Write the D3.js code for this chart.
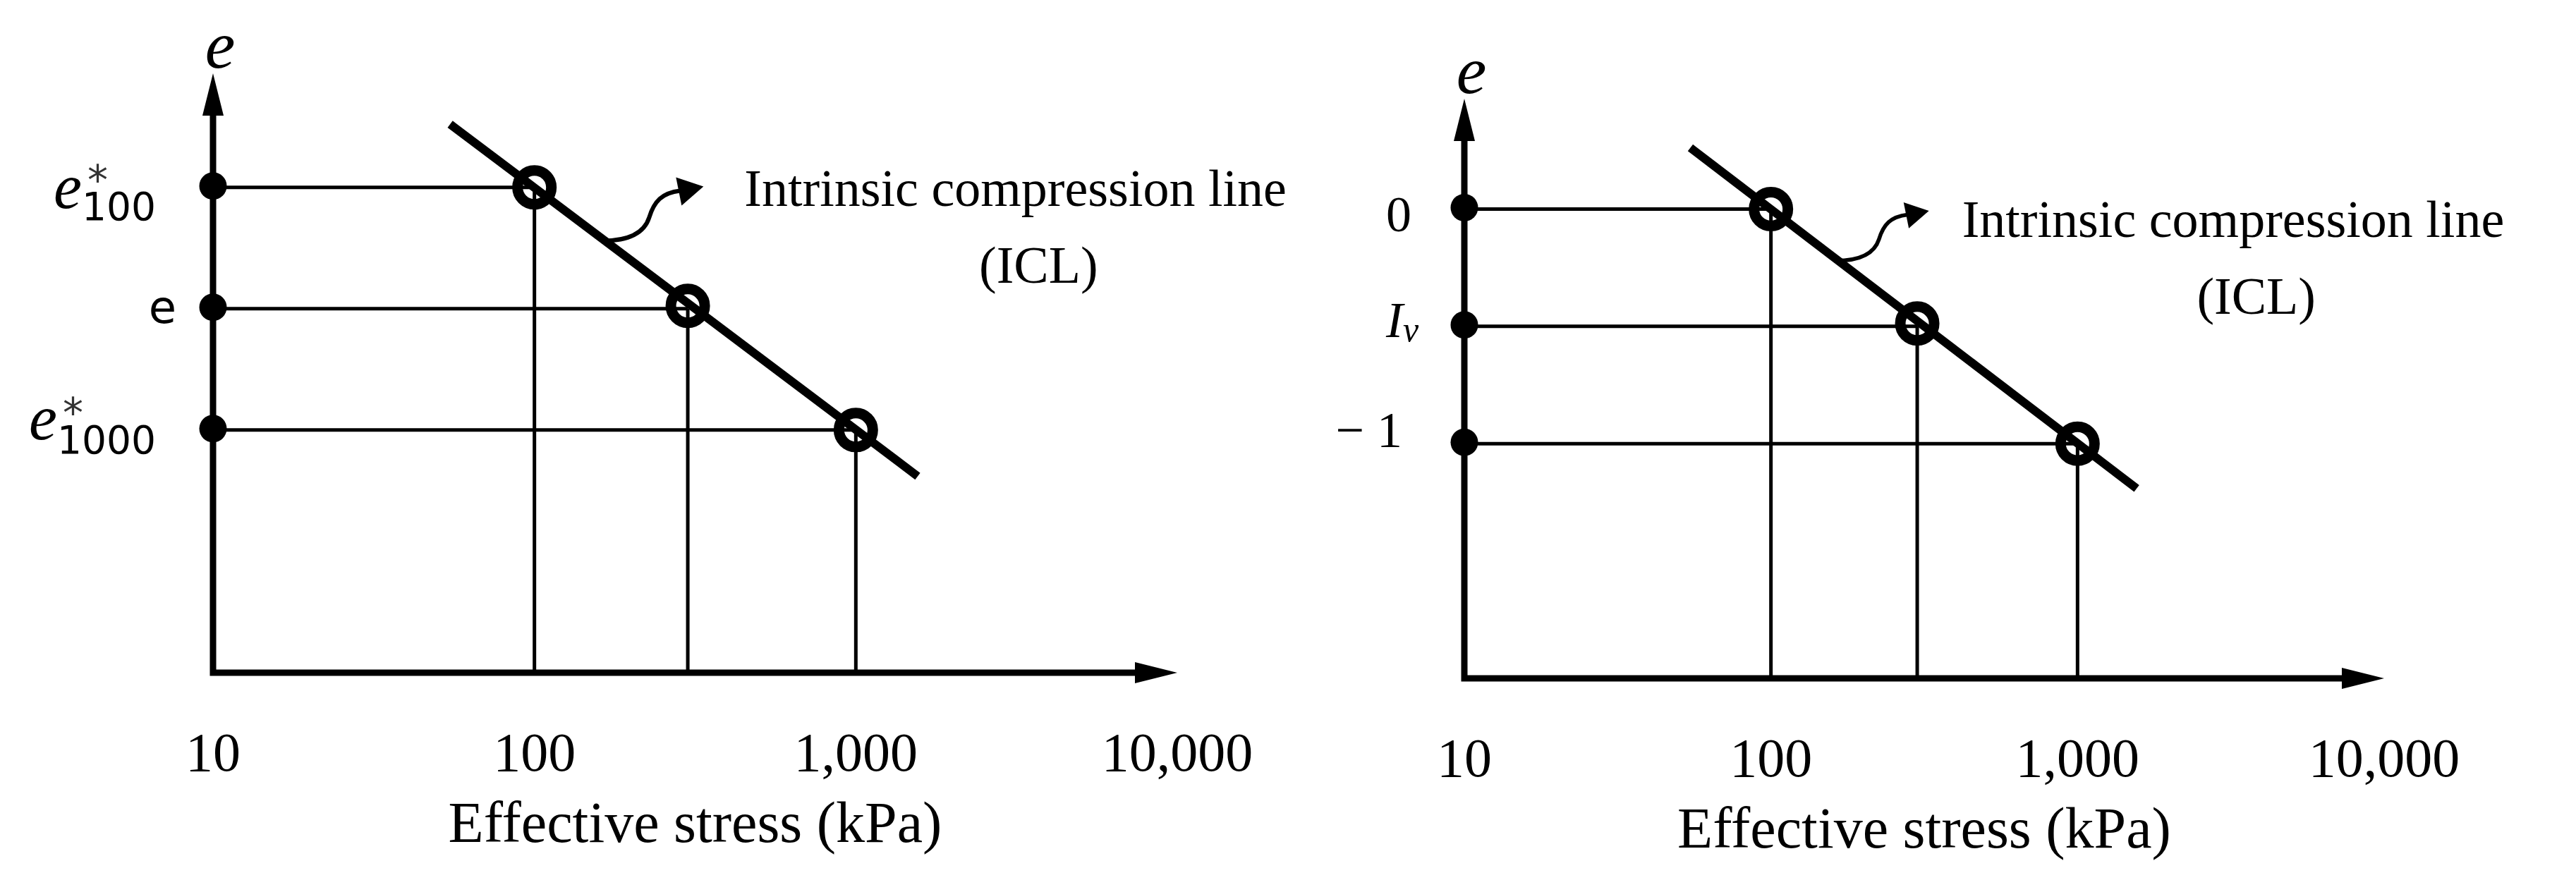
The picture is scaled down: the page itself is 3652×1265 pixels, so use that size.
<!DOCTYPE html>
<html>
<head>
<meta charset="utf-8">
<script src="https://cdn.jsdelivr.net/npm/d3@7"></script>
<style>
  html, body { margin: 0; padding: 0; background: #fff; }
  svg { display: block; }
</style>
</head>
<body>
<div id="chart"></div>
<script>
////////////////////////////////////////////////////////////////////
//////////////////////////////  Data  //////////////////////////////
const stressTicks = [10, 100, 1000, 10000];
const stressTickLabels = ["10", "100", "1,000", "10,000"];
const pointStress = [100, 300, 1000];
const pointIv = [0, -0.5, -1];
const iclStress = [56, 1520];
const iclIv = [0.25, -1.18];
const ivDomain = [-2, 0.47];
const noteStress = 168;
const leftSymbols = ["e", "e", "e"];
const leftSubs = ["100", "", "1000"];
const leftStars = ["*", "", "*"];
const rightSymbols = ["0", "I", "\u2212 1"];
const rightSubs = ["", "v", ""];
const yAxisTitle = "e";
const xAxisTitle = "Effective stress (kPa)";
const noteLines = ["Intrinsic compression line", "(ICL)"];

////////////////////////////////////////////////////////////////////
//////////////////////////////  Init  //////////////////////////////
const width = 3652, height = 1265;
const svg = d3.select("#chart").append("svg")
    .attr("width", width).attr("height", height);

const serif = "'Liberation Serif', 'Times New Roman', serif";
const sans = "'DejaVu Sans', sans-serif";

const panels = [
    { side: "left", xRange: [302, 1669], yRange: [954, 104],
      noteScale: 1, noteDx: 58, noteDy: 28 },
    { side: "right", xRange: [2076, 3380], yRange: [962, 140],
      noteScale: 0.92, noteDx: 47, noteDy: 37 }
];

panels.forEach(drawPanel);

function drawPanel(p) {
    const g = svg.append("g");
    const x = d3.scaleLog().domain([stressTicks[0], stressTicks[stressTicks.length - 1]]).range(p.xRange);
    const y = d3.scaleLinear().domain(ivDomain).range(p.yRange);
    const icl = d3.scaleLog().domain(iclStress).range(iclIv);

    const x0 = x(stressTicks[0]);
    const yBase = y(ivDomain[0]);
    const yTip = y(ivDomain[1]);
    const xTip = x(stressTicks[stressTicks.length - 1]);
    const head = 60, half = 15;

    // guide lines
    g.selectAll(".hguide").data(pointStress).join("line")
        .attr("x1", x0).attr("x2", (d) => x(d))
        .attr("y1", (d, i) => y(pointIv[i])).attr("y2", (d, i) => y(pointIv[i]))
        .attr("stroke", "#000").attr("stroke-width", 5);
    g.selectAll(".vguide").data(pointStress).join("line")
        .attr("x1", (d) => x(d)).attr("x2", (d) => x(d))
        .attr("y1", (d, i) => y(pointIv[i])).attr("y2", yBase)
        .attr("stroke", "#000").attr("stroke-width", 5);

    // axes
    g.append("path")
        .attr("d", `M${x0},${yTip + head - 2}L${x0},${yBase}L${xTip - head + 2},${yBase}`)
        .attr("fill", "none").attr("stroke", "#000").attr("stroke-width", 9)
        .attr("stroke-linejoin", "miter");
    g.append("path")
        .attr("d", `M${x0},${yTip}L${x0 - half},${yTip + head}L${x0 + half},${yTip + head}Z`)
        .attr("fill", "#000");
    g.append("path")
        .attr("d", `M${xTip},${yBase}L${xTip - head},${yBase - half}L${xTip - head},${yBase + half}Z`)
        .attr("fill", "#000");

    // dots on the y axis
    g.selectAll(".dot").data(pointIv).join("circle")
        .attr("cx", x0).attr("cy", (d) => y(d) - 2).attr("r", 19.5).attr("fill", "#000");

    // ICL
    g.append("line")
        .attr("x1", x(iclStress[0])).attr("y1", y(iclIv[0]))
        .attr("x2", x(iclStress[1])).attr("y2", y(iclIv[1]))
        .attr("stroke", "#000").attr("stroke-width", 12).attr("stroke-linecap", "square");

    g.selectAll(".pt").data(pointStress).join("circle")
        .attr("cx", (d) => x(d)).attr("cy", (d, i) => y(pointIv[i]) - (i === 1 ? 4 : 0))
        .attr("r", 24).attr("fill", "none").attr("stroke", "#000").attr("stroke-width", 15);

    // tick labels and titles
    g.selectAll(".tick").data(stressTicks).join("text")
        .attr("x", (d) => x(d)).attr("y", yBase + 139)
        .attr("text-anchor", "middle")
        .style("font-family", serif).style("font-size", "78px")
        .text((d, i) => stressTickLabels[i]);

    g.append("text")
        .attr("x", (x0 + xTip) / 2).attr("y", yBase + 240)
        .attr("text-anchor", "middle")
        .style("font-family", serif).style("font-size", "82px")
        .text(xAxisTitle);

    g.append("text")
        .attr("x", x0 + 10).attr("y", yTip - 8)
        .attr("text-anchor", "middle")
        .style("font-family", serif).style("font-style", "italic").style("font-size", "96px")
        .text(yAxisTitle);

    // y labels
    if (p.side === "left") {
        const eStart = [226, 0, 261], eDy = [29, 20, 13];
        const starDy = [-19, 0, -17], subDy = [36, 0, 37];
        pointIv.forEach((v, i) => {
            const y0 = y(v);
            if (leftSubs[i] === "") {
                g.append("text")
                    .attr("x", x0 - 52).attr("y", y0 + eDy[i])
                    .attr("text-anchor", "end")
                    .style("font-family", sans).style("font-size", "64px")
                    .text(leftSymbols[i]);
                return;
            }
            const t = g.append("text")
                .attr("x", x0 - eStart[i]).attr("y", y0 + eDy[i])
                .style("font-family", serif).style("font-size", "90px");
            t.append("tspan").style("font-style", "italic").text(leftSymbols[i]);
            t.append("tspan").attr("dx", 8).attr("dy", starDy[i])
                .style("font-family", sans).style("font-size", "58px").attr("fill", "#333")
                .text(leftStars[i]);
            t.append("tspan").attr("dx", -37).attr("dy", subDy[i])
                .style("font-family", sans).style("font-size", "55px")
                .text(leftSubs[i]);
        });
    } else {
        const lx = [93, 111, 88], ldy = [32, 15, 5];
        pointIv.forEach((v, i) => {
            const y0 = y(v);
            const t = g.append("text")
                .attr("y", y0 + ldy[i])
                .style("font-family", serif).style("font-size", "72px");
            if (i === 0) {
                t.attr("x", x0 - lx[i]).attr("text-anchor", "middle").text(rightSymbols[i]);
            } else if (rightSubs[i] !== "") {
                t.attr("x", x0 - lx[i]);
                t.append("tspan").style("font-style", "italic").text(rightSymbols[i]);
                t.append("tspan").attr("dy", 6).style("font-size", "50px").style("font-style", "italic")
                    .text(rightSubs[i]);
            } else {
                t.attr("x", x0 - lx[i]).attr("text-anchor", "end").text(rightSymbols[i]);
            }
        });
    }

    // annotation: squiggle arrow from the ICL to its name
    const ax = x(noteStress), ay = y(icl(noteStress));
    const s = p.noteScale;
    const note = g.append("g").attr("transform", `translate(${ax},${ay}) scale(${s})`);
    note.append("path")
        .attr("d", "M-6,-2C26,-2 52,-10 60,-35C67,-58 78,-70 104,-73")
        .attr("fill", "none").attr("stroke", "#000").attr("stroke-width", 6);
    note.append("path")
        .attr("d", "M137,-79L98,-92L106,-52Z")
        .attr("fill", "#000");
    const tipX = ax + 137 * s, tipY = ay - 79 * s;
    g.append("text")
        .attr("x", tipX + p.noteDx).attr("y", tipY + p.noteDy)
        .style("font-family", serif).style("font-size", "74px")
        .text(noteLines[0]);
    g.append("text")
        .attr("x", tipX + p.noteDx + 417).attr("y", tipY + p.noteDy + 109)
        .attr("text-anchor", "middle")
        .style("font-family", serif).style("font-size", "74px")
        .text(noteLines[1]);
}
</script>
</body>
</html>
